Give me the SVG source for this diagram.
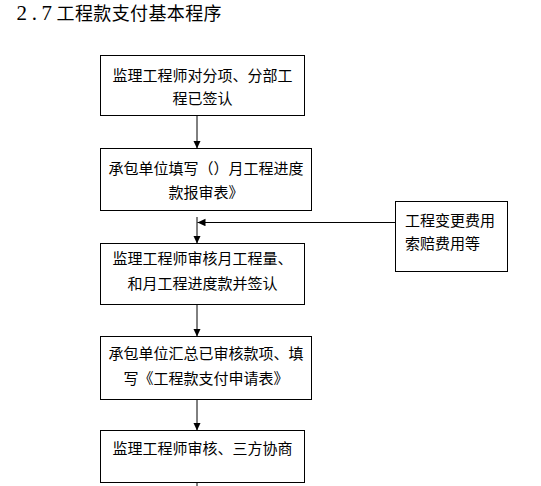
<svg xmlns="http://www.w3.org/2000/svg" width="541" height="486" viewBox="0 0 541 486">
<style>
.box{fill:#fff;stroke:#000;stroke-width:1}
.t{font-family:"Noto Sans CJK SC","Noto Sans",sans-serif;font-size:15px;fill:#000}
.m{text-anchor:middle}
.c{stroke:#000;stroke-width:1;fill:none}
</style>
<defs>
<marker id="ah" markerUnits="userSpaceOnUse" markerWidth="9" markerHeight="8" refX="8" refY="3.75" orient="auto">
<path d="M0,0 L8,3.75 L0,7.5 z" fill="#000"/>
</marker>
</defs>
<rect width="541" height="486" fill="#fff"/>
<g id="title">
<text x="16.5" y="19.5" font-family="Liberation Serif, serif" font-size="21" textLength="35.5" lengthAdjust="spacing" fill="#000">2.7</text>
<text x="56.5" y="19.5" font-family="Noto Sans CJK SC, sans-serif" font-size="18" textLength="165" lengthAdjust="spacing" fill="#000">工程款支付基本程序</text>
</g>
<g id="connectors">
<line class="c" x1="197" y1="115.5" x2="197" y2="148.5" marker-end="url(#ah)"/>
<line class="c" x1="197" y1="217" x2="197" y2="243.5" marker-end="url(#ah)"/>
<line class="c" x1="395.5" y1="222.5" x2="197.5" y2="222.5" marker-end="url(#ah)"/>
<line class="c" x1="197" y1="304.5" x2="197" y2="336.5" marker-end="url(#ah)"/>
<line class="c" x1="197" y1="399.5" x2="197" y2="430.5" marker-end="url(#ah)"/>
<line class="c" x1="197" y1="482.5" x2="197" y2="486"/>
</g>
<g id="n1">
<rect class="box" x="100.5" y="55.5" width="204" height="60"/>
<text class="t m" x="202.5" y="81">监理工程师对分项、分部工</text>
<text class="t m" x="202.5" y="104">程已签认</text>
</g>
<g id="n2">
<rect class="box" x="100.5" y="148.5" width="211" height="62"/>
<text class="t m" x="206" y="174">承包单位填写（）月工程进度</text>
<text class="t m" x="206" y="198">款报审表》</text>
</g>
<g id="n3">
<rect class="box" x="395.5" y="201.5" width="112" height="70"/>
<text class="t" x="405" y="226">工程变更费用</text>
<text class="t" x="405" y="249">索赔费用等</text>
</g>
<g id="n4">
<rect class="box" x="100.5" y="243.5" width="204" height="61"/>
<text class="t m" x="202.5" y="264">监理工程师审核月工程量、</text>
<text class="t m" x="202.5" y="289">和月工程进度款并签认</text>
</g>
<g id="n5">
<rect class="box" x="100.5" y="336.5" width="211" height="63"/>
<text class="t m" x="206" y="359">承包单位汇总已审核款项、填</text>
<text class="t m" x="206" y="384">写《工程款支付申请表》</text>
</g>
<g id="n6">
<rect class="box" x="100.5" y="430.5" width="204" height="52"/>
<text class="t m" x="202.5" y="453.5">监理工程师审核、三方协商</text>
</g>
</svg>
